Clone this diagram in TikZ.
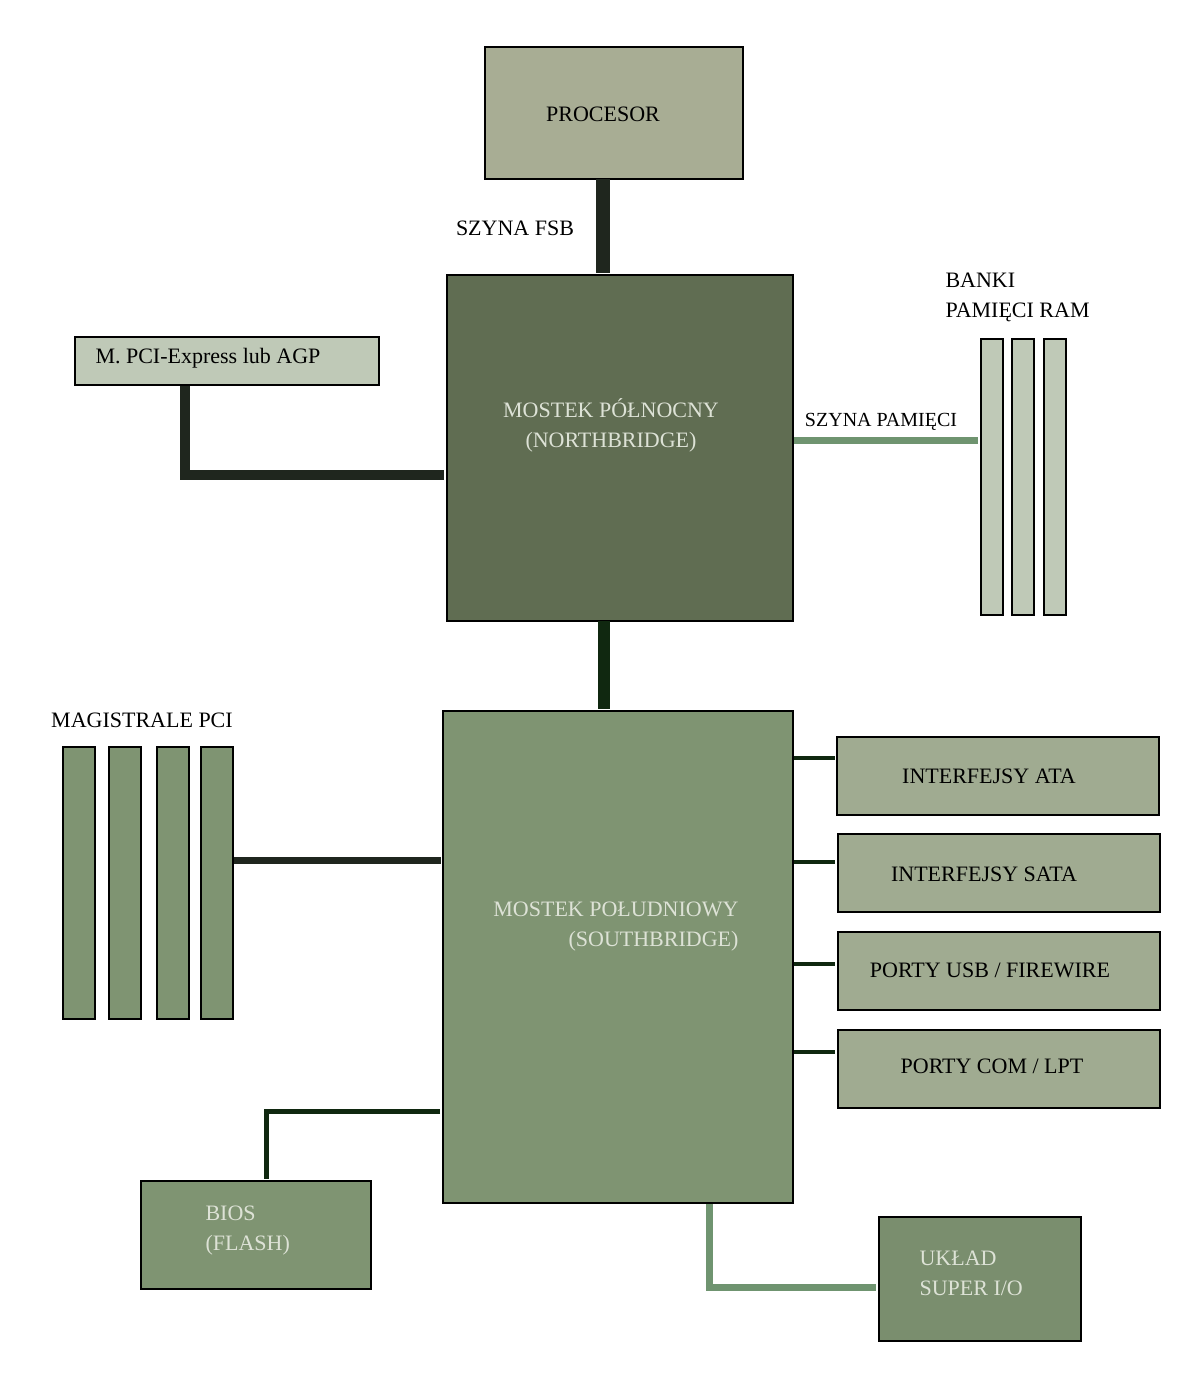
\documentclass[tikz,border=0pt]{standalone}
\usepackage{fontspec}
\setmainfont{Liberation Serif}
\begin{document}
\begin{tikzpicture}[x=1pt,y=-1pt,
  box/.style={draw=black,line width=1.5pt,anchor=north west,inner sep=0pt},
  lt/.style={text=light,font=\fontsize{22}{30}\selectfont,align=left},
  dk/.style={text=black,font=\fontsize{22}{30}\selectfont,align=left}]
\definecolor{cproc}{HTML}{A8AD94}
\definecolor{cnb}{HTML}{606D52}
\definecolor{csb}{HTML}{7F9472}
\definecolor{cpale}{HTML}{BFC9B7}
\definecolor{cif}{HTML}{A0AB91}
\definecolor{csio}{HTML}{7A8E6E}
\definecolor{cbus}{HTML}{1F261E}
\definecolor{cdk}{HTML}{102810}
\definecolor{cgr}{HTML}{6F9470}
\definecolor{light}{HTML}{DDE2D6}
\useasboundingbox (0,0) rectangle (1200,1400);
% boxes
\node[box,fill=cproc,minimum width=258pt,minimum height=132pt] (proc) at (484,46) {};
\node[dk] at (603,114) {PROCESOR};
\node[box,fill=cnb,minimum width=346pt,minimum height=346pt] (nb) at (446,274) {};
\node[lt,align=center] at (611,425) {MOSTEK PÓŁNOCNY\\(NORTHBRIDGE)};
\node[box,fill=csb,minimum width=350pt,minimum height=492pt] (sb) at (442,710) {};
\node[lt,align=right,anchor=east] at (742,927) {MOSTEK POŁUDNIOWY\\(SOUTHBRIDGE)};
\node[box,fill=cpale,minimum width=304pt,minimum height=48pt] (agp) at (74,336) {};
\node[dk,anchor=west] at (92,358) {M. PCI-Express lub AGP};
\node[dk,anchor=west] at (942,297) {BANKI\\PAMIĘCI RAM};
\foreach \x/\n in {980/r1,1011/r2,1043/r3}
  \node[box,fill=cpale,minimum width=22pt,minimum height=276pt] (\n) at (\x,338) {};
\node[dk] at (142,720) {MAGISTRALE PCI};
\foreach \x/\n in {62/p1,108/p2,156/p3,200/p4}
  \node[box,fill=csb,minimum width=32pt,minimum height=272pt] (\n) at (\x,746) {};
\node[box,fill=cif,minimum width=322pt,minimum height=78pt] (ata) at (836,736) {};
\node[dk] at (989,776) {INTERFEJSY ATA};
\node[box,fill=cif,minimum width=322pt,minimum height=78pt] (sata) at (837,833) {};
\node[dk] at (984,874) {INTERFEJSY SATA};
\node[box,fill=cif,minimum width=322pt,minimum height=78pt] (usb) at (837,931) {};
\node[dk] at (990,970) {PORTY USB / FIREWIRE};
\node[box,fill=cif,minimum width=322pt,minimum height=78pt] (com) at (837,1029) {};
\node[dk] at (992,1066) {PORTY COM / LPT};
\node[box,fill=csb,minimum width=230pt,minimum height=108pt] (bios) at (140,1180) {};
\node[lt,anchor=west] at (202,1231) {BIOS\\(FLASH)};
\node[box,fill=csio,minimum width=202pt,minimum height=124pt] (sio) at (878,1216) {};
\node[lt,anchor=west] at (916,1273) {UKŁAD\\SUPER I/O};
% buses
\draw[cbus,line width=14pt] (603,179) -- (603,273);
\node[dk] at (515,228) {SZYNA FSB};
\draw[cdk,line width=12pt] (604,621) -- (604,709);
\draw[cbus,line width=10pt,line join=miter] (185,386) -- (185,475) -- (444,475);
\draw[cgr,line width=7pt] (794,440) -- (978,440);
\node[dk,font=\fontsize{20}{24}\selectfont] at (881,422) {SZYNA PAMIĘCI};
\draw[cbus,line width=7pt] (234,860) -- (441,860);
\foreach \y in {758,862,964,1052} \draw[cdk,line width=4pt] (794,\y) -- (835,\y);
\draw[cdk,line width=5pt,line join=miter] (440,1111) -- (266,1111) -- (266,1179);
\draw[cgr,line width=7pt,line join=miter] (709,1204) -- (709,1287) -- (876,1287);
\end{tikzpicture}
\end{document}
